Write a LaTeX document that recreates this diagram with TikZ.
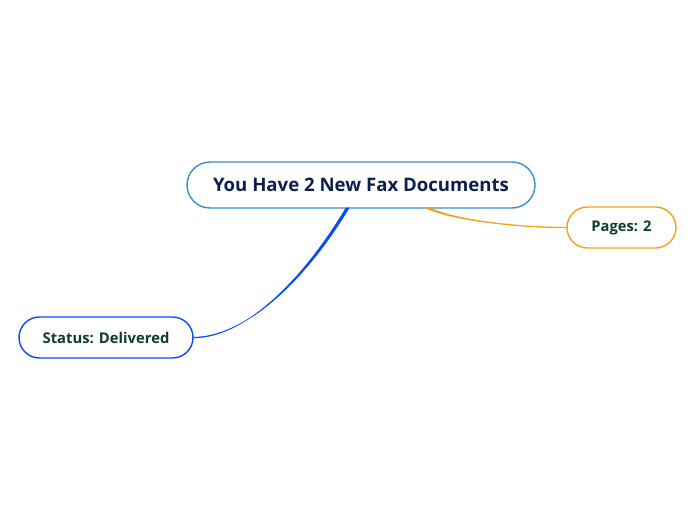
\documentclass[tikz,border=0pt]{standalone}
\usepackage{fontspec}
\setmainfont{Open Sans}
\usetikzlibrary{shapes.misc}
\definecolor{cblue}{HTML}{3A8FD0}
\definecolor{navy}{HTML}{0D1F4D}
\definecolor{sblue}{HTML}{0A4AF5}
\definecolor{dgreen}{HTML}{0F3D2E}
\definecolor{orng}{HTML}{F5A01C}
\tikzset{
  topic/.style={rounded rectangle, draw=#1, line width=1.4pt, fill=white, inner sep=0pt},
  branch/.style={fill=#1, draw=#1, line width=0.6pt, line join=round},
}
\begin{document}
\begin{tikzpicture}[x=1pt,y=-1pt]
\useasboundingbox (0,0) rectangle (696,520);
\node[topic=cblue, minimum width=348pt, minimum height=46pt, text=navy, font=\bfseries\fontsize{18.6}{22}\selectfont] (c) at (361,185) {You Have 2 New Fax Documents};
\node[topic=sblue, minimum width=174pt, minimum height=41pt, text=dgreen, font=\bfseries\fontsize{14.8}{17}\selectfont] (s) at (106,337.5) {Status: Delivered};
\node[topic=orng, minimum width=109pt, minimum height=41pt, text=dgreen, font=\bfseries\fontsize{14.7}{17}\selectfont] (p) at (621.5,227.5) {Pages: 2};
\path[branch=sblue] ([xshift=-15pt,yshift=0.7pt]c.south) .. controls +(-45,75) and +(50,0) .. ([yshift=-0.3pt]s.east)
  -- ([yshift=0.3pt]s.east) .. controls +(50,0) and +(-45,75) .. ([xshift=-12pt,yshift=0.7pt]c.south) -- cycle;
\path[branch=orng] ([xshift=64.5pt,yshift=0.7pt]c.south) .. controls +(25,12) and +(-50,0) .. ([yshift=-0.3pt]p.west)
  -- ([yshift=0.3pt]p.west) .. controls +(-50,0) and +(25,12) .. ([xshift=69.5pt,yshift=0.7pt]c.south) -- cycle;
\end{tikzpicture}
\end{document}
